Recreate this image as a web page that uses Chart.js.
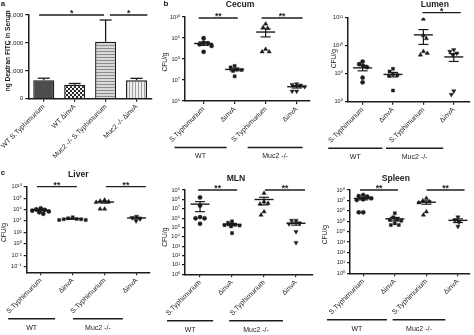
<!DOCTYPE html>
<html>
<head>
<meta charset="utf-8">
<script src="https://cdn.jsdelivr.net/npm/chart.js@4/dist/chart.umd.min.js"></script>
<style>
  html, body { margin: 0; padding: 0; background: #fff; }
  #wrap { position: relative; width: 474px; height: 335px; overflow: hidden; background: #fff; }
  #wrap canvas { position: absolute; left: 0; top: 0; }
</style>
</head>
<body>
<div id="wrap"></div>
<script>
// ---------- data ----------
// Panel a: FITC-dextran in serum (ng), mean and SEM per group
const dextranLabels = ['WT S.Typhimurium', 'WT ΔinvA', 'Muc2 -/- S.Typhimurium', 'Muc2 -/- ΔinvA'];
const dextranMean = [660, 500, 2040, 660];
const dextranSem = [75, 45, 780, 70];
const dextranTicks = [0, 1000, 2000, 3000];

// Panels b, c: CFU/g per mouse; group order WT S.Tm, WT ΔinvA, Muc2-/- S.Tm, Muc2-/- ΔinvA
const strainLabels = ['S.Typhimurium', 'ΔinvA', 'S.Typhimurium', 'ΔinvA'];
const genotypeLabels = ['WT', 'Muc2 -/-'];

const cecumCfu = [
  [9.8e8, 6.0e8, 5.6e8, 5.0e8, 4.2e8, 2.2e8],
  [4.7e7, 4.0e7, 3.2e7, 3.0e7, 2.7e7, 1.5e7],
  [4.7e9, 3.2e9, 2.9e9, 2.9e8, 2.2e8, 2.2e8],
  [6.5e6, 6.0e6, 5.6e6, 4.8e6, 2.9e6, 2.9e6]
];
const lumenCfu = [
  [2.7e9, 2.2e9, 1.9e9, 1.7e9, 7.2e8, 4.9e8],
  [1.5e9, 1.2e9, 9.8e8, 8.9e8, 8.3e8, 2.5e8],
  [8.9e10, 2.3e10, 1.8e10, 6.2e9, 5.4e9, 4.7e9],
  [7.1e9, 6.2e9, 5.4e9, 4.7e9, 2.4e8, 1.8e8]
];
const liverCfu = [
  [1.6e6, 1.1e6, 8.9e5, 6.3e5, 4.5e5, 3.2e5, 1.8e5],
  [4.4e4, 2.9e4, 2.2e4, 2.0e4, 1.95e4, 1.5e4, 1.5e4],
  [4.7e7, 3.2e7, 2.3e7, 1.9e7, 1.26e6, 1.26e6],
  [6.3e4, 3.8e4, 2.2e4, 1.0e4]
];
const mlnCfu = [
  [1.6e8, 2.2e7, 1.3e6, 9.5e5, 9.5e5, 2.5e5],
  [4.5e5, 3.2e5, 2.0e5, 1.8e5, 1.6e5, 1.3e5, 2.5e4],
  [4.5e8, 5.6e7, 3.8e7, 3.2e7, 4.8e6, 2.1e6],
  [5.6e5, 5.6e5, 2.75e5, 2.3e5, 3.5e4, 2.4e3]
];
const spleenCfu = [
  [3.3e7, 2.6e7, 2.3e7, 1.6e7, 1.26e7, 1.1e7, 7.2e5, 7.2e5],
  [5.8e5, 2.4e5, 1.5e5, 1.3e5, 1.1e5, 6.3e4, 4.3e4, 4.3e4],
  [1.6e7, 9.3e6, 7.6e6, 6.0e6, 8.1e5, 4.0e5],
  [2.5e5, 1.26e5, 7.9e4, 3.2e4]
];

// ---------- helpers ----------
const FONT = "'Liberation Sans', Arial, Helvetica, sans-serif";
const INK = '#1c1c1c';
const W = 474, H = 335;
const Y_W = 24;   // fixed y-axis box width

Chart.defaults.font.family = FONT;
Chart.defaults.color = INK;

const SUP = { '0': '⁰', '1': '¹', '2': '²', '3': '³', '4': '⁴', '5': '⁵', '6': '⁶', '7': '⁷', '8': '⁸', '9': '⁹', '-': '⁻' };
const pow10Label = v => '10' + String(Math.round(Math.log10(v))).split('').map(c => SUP[c]).join('');
function decades(lo, hi, step = 1) {
  const out = [];
  for (let e = lo; e <= hi; e += step) out.push(Math.pow(10, e));
  return out;
}
function meanSem(arr) {
  const n = arr.length;
  const m = arr.reduce((a, b) => a + b, 0) / n;
  const sd = Math.sqrt(arr.reduce((a, b) => a + (b - m) * (b - m), 0) / (n - 1));
  return { m, sem: sd / Math.sqrt(n) };
}
// spread points of one group sideways so that markers do not overlap
function swarmOffsets(ys, diam) {
  const idx = ys.map((_, i) => i).sort((a, b) => ys[a] - ys[b]);
  const placed = [];
  const out = new Array(ys.length).fill(0);
  const cands = [0];
  for (let k = 1; k <= 40; k++) cands.push(k * 0.5);
  idx.forEach((i, n) => {
    for (const c0 of cands) {
      const tries = c0 === 0 ? [0] : (n % 2 ? [-c0, c0] : [c0, -c0]);
      const hit = tries.find(c => placed.every(p => (p.x - c) ** 2 + (p.y - ys[i]) ** 2 >= diam * diam));
      if (hit !== undefined) { out[i] = hit; placed.push({ x: hit, y: ys[i] }); return; }
    }
  });
  return out;
}
function newCanvas() {
  const cv = document.createElement('canvas');
  cv.width = W; cv.height = H;
  cv.style.width = W + 'px'; cv.style.height = H + 'px';
  document.getElementById('wrap').appendChild(cv);
  return cv;
}
// x-axis box height: tall enough for the slanted labels (they are clipped to this box)
const xBoxHeight = area => Math.min(72, H - area.bottom - 1);
function padFor(area) {
  return { left: area.left - Y_W, top: area.top, right: W - area.right, bottom: H - area.bottom - xBoxHeight(area) };
}
function text(ctx, str, x, y, font, align = 'center', rot = 0) {
  ctx.save();
  ctx.font = font; ctx.fillStyle = INK;
  ctx.textAlign = align; ctx.textBaseline = 'middle';
  ctx.translate(x, y);
  if (rot) ctx.rotate(rot);
  ctx.fillText(str, 0, 0);
  ctx.restore();
}
function hline(ctx, x1, x2, y, w = 1.3) {
  ctx.save(); ctx.strokeStyle = INK; ctx.lineWidth = w;
  ctx.beginPath(); ctx.moveTo(x1, y); ctx.lineTo(x2, y); ctx.stroke(); ctx.restore();
}
function vline(ctx, x, y1, y2, w = 1.3) {
  ctx.save(); ctx.strokeStyle = INK; ctx.lineWidth = w;
  ctx.beginPath(); ctx.moveTo(x, y1); ctx.lineTo(x, y2); ctx.stroke(); ctx.restore();
}
function drawSig(ctx, xs, yPix, sig) {
  sig.forEach(([a, b, stars]) => {
    const x1 = xs.getPixelForValue(a), x2 = xs.getPixelForValue(b);
    hline(ctx, x1, x2, yPix, 1.3);
    text(ctx, stars, (x1 + x2) / 2, yPix - 1, 'bold 8.5px ' + FONT);
  });
}
function axisStyle() {
  return {
    border: { display: true, color: INK, width: 1.5 },
    grid: { display: true, drawOnChartArea: false, drawTicks: true, tickLength: 3, color: INK, lineWidth: 1.2, offset: false }
  };
}

// ---------- bar fills ----------
function pattern(draw, w, h) {
  const c = document.createElement('canvas');
  c.width = w; c.height = h;
  const g = c.getContext('2d');
  draw(g);
  return g.createPattern(c, 'repeat');
}
const barFills = [
  '#4c4c4c',
  pattern(g => { g.fillStyle = '#f4f4f4'; g.fillRect(0, 0, 4, 4); g.fillStyle = '#262626'; g.fillRect(0, 0, 2, 2); g.fillRect(2, 2, 2, 2); }, 4, 4),
  pattern(g => { g.fillStyle = '#d8d8d8'; g.fillRect(0, 0, 3, 3); g.fillStyle = '#8c8c8c'; g.fillRect(0, 0, 3, 1); }, 3, 3),
  pattern(g => { g.fillStyle = '#efefef'; g.fillRect(0, 0, 3, 3); g.fillStyle = '#a0a0a0'; g.fillRect(0, 0, 1, 3); }, 3, 3)
];

// ---------- panel a: dextran bars ----------
(function () {
  const area = { left: 28.3, top: 15, right: 152, bottom: 98.7 };
  const sig = [[-0.15, 1.95, '*'], [2.14, 3.35, '*']];
  new Chart(newCanvas(), {
    type: 'bar',
    data: {
      labels: dextranLabels,
      datasets: [{
        data: dextranMean,
        backgroundColor: barFills,
        borderColor: INK,
        borderWidth: 1.4,
        borderSkipped: 'bottom',
        barPercentage: 0.68,
        categoryPercentage: 1
      }]
    },
    options: {
      responsive: false, animation: false, devicePixelRatio: 1,
      layout: { padding: padFor(area) },
      plugins: { legend: { display: false }, tooltip: { enabled: false } },
      scales: {
        x: Object.assign(axisStyle(), {
          ticks: { font: { size: 6.9 }, color: INK, minRotation: 45, maxRotation: 45, autoSkip: false, padding: 1 },
          afterFit: s => { s.height = xBoxHeight(area); s.paddingLeft = 0; s.paddingRight = 0; }
        }),
        y: Object.assign(axisStyle(), {
          min: 0, max: 3000,
          afterBuildTicks: s => { s.ticks = dextranTicks.map(v => ({ value: v })); },
          ticks: { font: { size: 6.2 }, color: INK, padding: 2, autoSkip: false },
          afterFit: s => { s.width = Y_W; s.paddingTop = 0; s.paddingBottom = 0; }
        })
      }
    },
    plugins: [{
      id: 'dextranExtras',
      afterDatasetsDraw(chart) {
        const { ctx, scales: { x, y } } = chart;
        dextranMean.forEach((m, i) => {
          const px = x.getPixelForValue(i);
          const top = y.getPixelForValue(m + dextranSem[i]);
          vline(ctx, px, y.getPixelForValue(m), top, 1.3);
          hline(ctx, px - 6, px + 6, top, 1.3);
        });
      },
      afterDraw(chart) {
        const { ctx, chartArea: a, scales: { x, y } } = chart;
        drawSig(ctx, x, y.getPixelForValue(3000), sig);
        text(ctx, 'ng Dextran FITC in Serum', 8, (a.top + a.bottom) / 2 - 6, 'bold 6.6px ' + FONT, 'center', -Math.PI / 2);
        text(ctx, 'a', 3, 4, 'bold 8px ' + FONT);
      }
    }]
  });
})();

// ---------- panels b, c: bacterial loads ----------
const MARKERS = [
  { style: 'circle', rot: 0, r: 2.1 },
  { style: 'rect', rot: 0, r: 2.2 },
  { style: 'triangle', rot: 0, r: 2.5 },
  { style: 'triangle', rot: 180, r: 2.5 }
];

const organPanels = [
  { title: 'Cecum', letter: 'b', letterAt: [166, 4], values: cecumCfu,
    yMin: 1e6, yMax: 1e10, yTicks: decades(6, 10),
    area: { left: 185, top: 17, right: 310, bottom: 101 }, xMin: -0.6, xMax: 3.43,
    titleAt: [-7.5, -12.5], yTitleAt: [-20, 3],
    sigY: 1, sig: [[-0.16, 1.10, '**'], [1.87, 3.19, '**']],
    groups: [[-0.94, 0.74], [1.42, 3.19]] },
  { title: 'Lumen', values: lumenCfu,
    yMin: 1e8, yMax: 1e11, yTicks: decades(8, 11),
    area: { left: 348, top: 17.7, right: 472, bottom: 101.7 }, xMin: -0.48, xMax: 3.52,
    titleAt: [26, -13], yTitleAt: [-14, -1],
    sigY: -5, sig: [[1.97, 3.23, '*']],
    groups: [[-1.13, 0.65], [0.77, 2.65]] },
  { title: 'Liver', letter: 'c', letterAt: [3, 173], values: liverCfu,
    yMin: 1e-5, yMax: 1e10, yTicks: decades(-4, 10, 2),
    area: { left: 26.7, top: 186.7, right: 150, bottom: 272.3 }, xMin: -0.44, xMax: 3.42,
    titleAt: [-10, -12], yTitleAt: [-23, 3],
    sigY: 0, sig: [[-0.12, 1.13, '**'], [2.04, 3.29, '**']],
    groups: [[-1.02, 0.45], [1.01, 2.57]] },
  { title: 'MLN', values: mlnCfu,
    yMin: 1, yMax: 1e9, yTicks: decades(0, 9),
    area: { left: 185, top: 190, right: 313, bottom: 274.3 }, xMin: -0.47, xMax: 3.53,
    titleAt: [-13, -11], yTitleAt: [-20, 5],
    sigY: 0, sig: [[-0.06, 1.16, '**'], [2.03, 3.28, '**']],
    groups: [[-1.03, 0.41], [0.91, 2.59]] },
  { title: 'Spleen', values: spleenCfu,
    yMin: 1, yMax: 1e8, yTicks: decades(0, 8),
    area: { left: 350, top: 190, right: 470, bottom: 273.3 }, xMin: -0.42, xMax: 3.37,
    titleAt: [-14, -11], yTitleAt: [-25, 3],
    sigY: 0, sig: [[-0.1, 1.1, '**'], [2.01, 3.21, '**']],
    groups: [[-1.15, 0.75], [0.93, 2.6]] }
];

function organChart(p) {
  const lo = Math.log10(p.yMin), hi = Math.log10(p.yMax);
  const pxY = v => p.area.top + (hi - Math.log10(v)) / (hi - lo) * (p.area.bottom - p.area.top);
  const unitPx = (p.area.right - p.area.left) / (p.xMax - p.xMin);
  const stats = p.values.map(meanSem);

  const datasets = p.values.map((vals, g) => {
    const offs = swarmOffsets(vals.map(pxY), 4.2);
    return {
      data: vals.map((v, i) => ({ x: g + offs[i] / unitPx, y: v })),
      pointStyle: MARKERS[g].style,
      rotation: MARKERS[g].rot,
      pointRadius: MARKERS[g].r,
      backgroundColor: INK,
      borderColor: INK,
      borderWidth: 0.4
    };
  });

  new Chart(newCanvas(), {
    type: 'scatter',
    data: { datasets },
    options: {
      responsive: false, animation: false, devicePixelRatio: 1,
      layout: { padding: padFor(p.area) },
      plugins: { legend: { display: false }, tooltip: { enabled: false } },
      scales: {
        x: Object.assign(axisStyle(), {
          type: 'linear', min: p.xMin, max: p.xMax,
          afterBuildTicks: s => { s.ticks = [0, 1, 2, 3].map(v => ({ value: v })); },
          ticks: { font: { size: 7 }, color: INK, minRotation: 45, maxRotation: 45, autoSkip: false, padding: 1,
                   callback: v => strainLabels[v] },
          afterFit: s => { s.height = xBoxHeight(p.area); s.paddingLeft = 0; s.paddingRight = 0; }
        }),
        y: Object.assign(axisStyle(), {
          type: 'logarithmic', min: p.yMin, max: p.yMax,
          afterBuildTicks: s => { s.ticks = p.yTicks.map(v => ({ value: v })); },
          ticks: { font: { size: 5.6 }, color: INK, padding: 2, autoSkip: false, callback: v => pow10Label(v) },
          afterFit: s => { s.width = Y_W; s.paddingTop = 0; s.paddingBottom = 0; }
        })
      }
    },
    plugins: [{
      id: 'organExtras',
      afterDatasetsDraw(chart) {
        const { ctx, scales: { x, y } } = chart;
        // mean with SEM whiskers
        stats.forEach((s, g) => {
          const cx = x.getPixelForValue(g);
          const ym = y.getPixelForValue(s.m);
          const yt = y.getPixelForValue(s.m + s.sem);
          const yb = y.getPixelForValue(Math.max(s.m - s.sem, p.yMin));
          hline(ctx, cx - 9.5, cx + 9.5, ym, 1.4);
          vline(ctx, cx, yt, yb, 1.2);
          hline(ctx, cx - 5, cx + 5, yt, 1.2);
          hline(ctx, cx - 5, cx + 5, yb, 1.2);
        });
      },
      afterDraw(chart) {
        const { ctx, chartArea: a, scales: { x } } = chart;
        drawSig(ctx, x, a.top + p.sigY, p.sig);
        const cx = (a.left + a.right) / 2, cy = (a.top + a.bottom) / 2;
        text(ctx, p.title, cx + p.titleAt[0], a.top + p.titleAt[1], 'bold 8.6px ' + FONT);
        text(ctx, 'CFU/g', a.left + p.yTitleAt[0], cy + p.yTitleAt[1], '6.6px ' + FONT, 'center', -Math.PI / 2);
        p.groups.forEach(([g1, g2], k) => {
          const x1 = x.getPixelForValue(g1), x2 = x.getPixelForValue(g2);
          hline(ctx, x1, x2, a.bottom + 46.5, 1.6);
          text(ctx, genotypeLabels[k], (x1 + x2) / 2, a.bottom + 55.5, '7px ' + FONT);
        });
        if (p.letter) text(ctx, p.letter, p.letterAt[0], p.letterAt[1], 'bold 8px ' + FONT);
      }
    }]
  });
}

organPanels.forEach(organChart);
</script>
</body>
</html>
